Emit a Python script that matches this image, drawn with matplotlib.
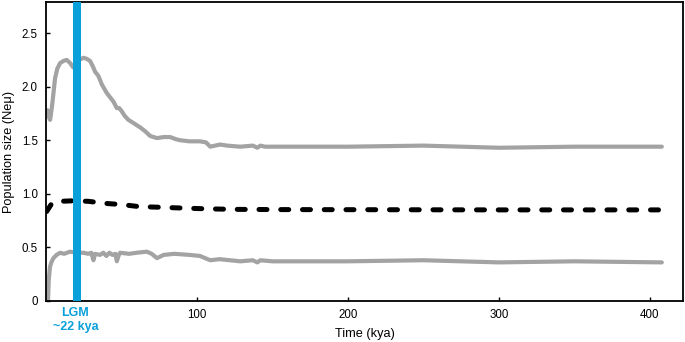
import matplotlib
matplotlib.use("Agg")
import matplotlib.pyplot as plt
import matplotlib.transforms as mtransforms

plt.rcParams['font.family'] = ['Liberation Sans', 'DejaVu Sans']

# upper bound (grey)
upper_x = [1.0, 1.8, 2.7, 4.0, 6.0, 7.5, 9.3, 11.5, 13.7, 16.0, 18.0, 20.0, 22.0, 24.8,
           27.0, 29.2, 31.0, 32.5, 34.7, 37.0, 40.3, 42.5, 44.7, 46.9, 48.5, 50.2, 52.0,
           54.6, 58.0, 62.4, 66.0, 69.0, 73.5, 78.0, 82.3, 86.0, 88.9, 95.0, 102.0, 106.0,
           108.8, 112.0, 115.5, 120.0, 128.7, 137.0, 140.0, 142.0, 145.0, 160.0, 200.0,
           250.0, 300.0, 350.0, 380.0, 408.0]
upper_y = [1.78, 1.72, 1.69, 1.82, 2.08, 2.17, 2.22, 2.24, 2.25, 2.22, 2.18, 2.20, 2.25, 2.27,
           2.26, 2.24, 2.19, 2.14, 2.10, 2.02, 1.94, 1.90, 1.86, 1.80, 1.80, 1.77, 1.73,
           1.69, 1.66, 1.62, 1.58, 1.54, 1.52, 1.53, 1.53, 1.51, 1.50, 1.49, 1.49, 1.48,
           1.44, 1.45, 1.46, 1.45, 1.44, 1.45, 1.43, 1.45, 1.44, 1.44, 1.44,
           1.45, 1.43, 1.44, 1.44, 1.44]

# lower bound (grey)
lower_x = [1.3, 1.8, 2.65, 3.5, 4.9, 7.0, 9.3, 12.0, 15.9, 20.0, 24.8, 28.0, 30.0, 31.4,
           32.5, 35.8, 38.0, 40.0, 42.0, 44.0, 46.0, 46.9, 48.0, 49.0, 55.0, 60.0, 66.8,
           70.0, 73.5, 78.0, 85.0, 95.0, 102.0, 108.8, 115.0, 128.7, 137.0, 140.0, 142.0,
           150.0, 200.0, 250.0, 300.0, 350.0, 408.0]
lower_y = [0.0, 0.20, 0.32, 0.36, 0.40, 0.43, 0.45, 0.44, 0.46, 0.45, 0.45, 0.44, 0.45, 0.38,
           0.44, 0.43, 0.45, 0.42, 0.45, 0.43, 0.44, 0.37, 0.42, 0.45, 0.44, 0.45, 0.46,
           0.44, 0.40, 0.43, 0.44, 0.43, 0.42, 0.38, 0.39, 0.37, 0.38, 0.36, 0.38,
           0.37, 0.37, 0.38, 0.36, 0.37, 0.36]

# median (black dashed)
median_x = [0.4, 2.0, 3.8, 6.0, 9.3, 18.0, 28.0, 40.0, 50.0, 62.0, 75.0, 84.5, 95.0, 106.6,
            125.0, 150.0, 200.0, 300.0, 408.0]
median_y = [0.835, 0.87, 0.91, 0.925, 0.93, 0.935, 0.93, 0.91, 0.90, 0.88, 0.875, 0.87, 0.865,
            0.86, 0.855, 0.853, 0.852, 0.85, 0.85]

xticks = [100, 200, 300, 400]
yticks = [0, 0.5, 1.0, 1.5, 2.0, 2.5]
ytick_labels = ["0", "0.5", "1.0", "1.5", "2.0", "2.5"]

lgm_span = (18.0, 23.2)

fig = plt.figure(figsize=(6.85, 3.42), dpi=100)
ax = fig.add_axes([0.0672, 0.12, 0.9298, 0.874])

grey = "#a3a3a3"
ax.plot(upper_x, upper_y, color=grey, lw=3.0, solid_joinstyle='round', solid_capstyle='round')
ax.plot(lower_x, lower_y, color=grey, lw=3.0, solid_joinstyle='round', solid_capstyle='round')
ax.plot(median_x, median_y, color="black", lw=3.6, dashes=(1.6, 2.75),
        dash_capstyle='round')

ax.axvspan(lgm_span[0], lgm_span[1], color="#0aa0da", lw=0, zorder=3)

ax.set_xlim(0, 422)
ax.set_ylim(0, 2.79)
ax.set_xticks(xticks)
ax.set_yticks(yticks)
ax.set_yticklabels(ytick_labels)
ax.tick_params(direction='in', length=3, width=1, labelsize=8.3, pad=6)

for s in ax.spines.values():
    s.set_linewidth(1.3)

ax.set_xlabel("Time (kya)", fontsize=9.2, labelpad=5)
ax.set_ylabel("Population size (Ne\u03bc)", fontsize=9.2, labelpad=5)

trans = mtransforms.blended_transform_factory(ax.transData, ax.transAxes)
ax.text(19.5, -0.02, "LGM\n~22 kya", transform=trans, ha='center', va='top',
        color="#0aa0da", fontsize=9, fontweight='bold', linespacing=1.2)

plt.savefig("out.png", dpi=100)
